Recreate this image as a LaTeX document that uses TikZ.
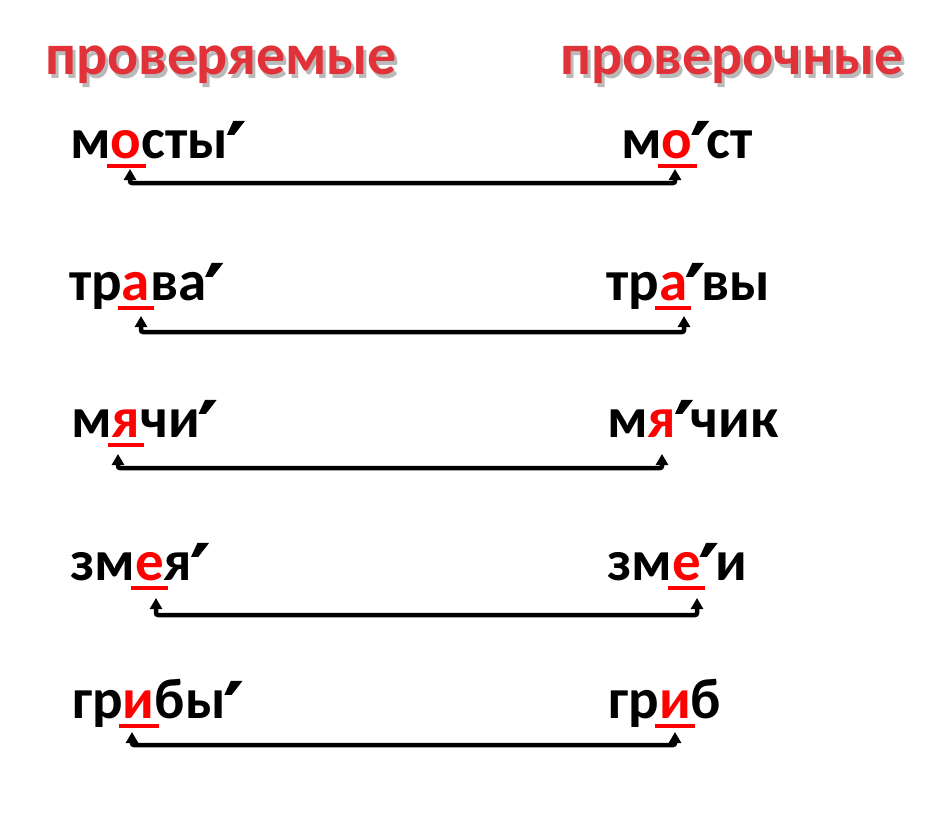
\documentclass[tikz,border=0pt]{standalone}
\usepackage{fontspec}
\setmainfont{Carlito}
\newfontfamily\primefont[FakeBold=3]{DejaVu Sans}
\usepackage{xcolor}
\usetikzlibrary{arrows.meta}

\definecolor{headred}{RGB}{224,50,56}
\definecolor{markred}{RGB}{255,0,0}
\newcommand{\ud}[1]{\setbox0\hbox{#1}\rlap{\makebox[\wd0]{\color{markred}\rule[-10pt]{\dimexpr\wd0+8pt}{4.5pt}}}\textcolor{markred}{#1}}
\newcommand{\rd}[1]{\textcolor{markred}{#1}}
\newcommand{\acc}{{\primefont\fontsize{66}{66}\selectfont\kern-1pt\raisebox{-12pt}{′}\kern-2pt}}

\begin{document}
\begin{tikzpicture}[x=1pt, y=-1pt,
  word/.style={anchor=base west, inner sep=0pt, font=\fontsize{57}{57}\selectfont\bfseries},
  head/.style={anchor=base west, inner sep=0pt, font=\fontsize{58}{58}\selectfont\bfseries},
  link/.style={{Triangle[width=12pt,length=11pt]}-{Triangle[width=12pt,length=11pt]}, line width=4.5pt, rounded corners=2pt}]

\useasboundingbox (0,0) rectangle (942,819);

% заголовки
\node[head, text=black!45, opacity=0.6] at (48,78) {проверяемые};
\node[head, text=headred] (H1) at (45,74) {проверяемые};
\node[head, text=black!45, opacity=0.6] at (563,78) {проверочные};
\node[head, text=headred] (H2) at (560,74) {проверочные};

% слова
\node[word] (L1) at (70,158) {м\ud{о}сты\acc};
\node[word] (R1) at (621,158) {м\ud{о}\acc ст};
\node[word] (L2) at (69,300) {тр\ud{а}ва\acc};
\node[word] (R2) at (606,300) {тр\ud{а}\acc вы};
\node[word] (L3) at (71,437) {м\ud{я}чи\acc};
\node[word] (R3) at (607,437) {м\rd{я}\acc чик};
\node[word] (L4) at (70,580) {зм\ud{е}я\acc};
\node[word] (R4) at (607,580) {зм\ud{е}\acc и};
\node[word] (L5) at (72,718) {гр\ud{и}бы\acc};
\node[word] (R5) at (608,718) {гр\ud{и}б};

% стрелки
\coordinate (L1t) at (130,169);
\coordinate (R1t) at (675,169);
\coordinate (L2t) at (141,316);
\coordinate (R2t) at (684,316);
\coordinate (L3t) at (118,454);
\coordinate (R3t) at (662,454);
\coordinate (L4t) at (156,598);
\coordinate (R4t) at (697,598);
\coordinate (L5t) at (132,732);
\coordinate (R5t) at (675,732);

\draw[link] (L1t) -- ++(0,14) -| (R1t);
\draw[link] (L2t) -- ++(0,16) -| (R2t);
\draw[link] (L3t) -- ++(0,14) -| (R3t);
\draw[link] (L4t) -- ++(0,17) -| (R4t);
\draw[link] (L5t) -- ++(0,13) -| (R5t);

\end{tikzpicture}
\end{document}
